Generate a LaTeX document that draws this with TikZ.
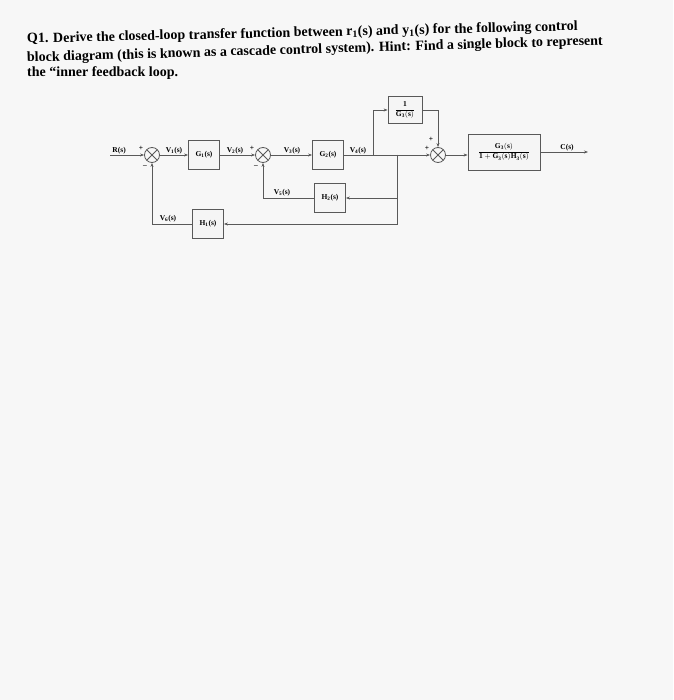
\documentclass[tikz,border=0pt]{standalone}
\usepackage{fontspec}
\setmainfont{Liberation Serif}
\usetikzlibrary{arrows.meta}
\begin{document}
\begin{tikzpicture}[x=1pt,y=-1pt,
  blk/.style={draw,thick,gray!70!black,fill=gray!8,minimum width=31pt,minimum height=29pt,inner sep=1pt,text=black,font=\bfseries\fontsize{7.5}{8}\selectfont},
  sumc/.style={draw,thick,gray!70!black,circle,minimum size=15pt,inner sep=0pt,path picture={\draw[thick,gray!70!black] (path picture bounding box.north west)--(path picture bounding box.south east) (path picture bounding box.north east)--(path picture bounding box.south west);}},
  lab/.style={font=\bfseries\fontsize{7.5}{8}\selectfont,inner sep=1pt},
  hdr/.style={anchor=base west,font=\bfseries\fontsize{14}{16}\selectfont,inner sep=0pt},
  sig/.style={thick,gray!70!black,-{Stealth[length=4pt]}},
  ln/.style={thick,gray!70!black}]
\fill[gray!6] (0,0) rectangle (673,700);
\useasboundingbox (0,0) rectangle (673,700);
\node[hdr,rotate=1.3] (h1) at (27,43) {Q1. Derive the closed-loop transfer function between r\textsubscript{1}(s) and y\textsubscript{1}(s) for the following control};
\node[hdr,rotate=1.7] (h2) at (27,62) {block diagram (this is known as a cascade control system). Hint: Find a single block to represent};
\node[hdr] (h3) at (27,77) {the ``inner feedback loop.};
\coordinate (rin) at (110,155);
\node[sumc] (s1) at (152,155) {};
\node[blk] (g1) at (204,155) {G\textsubscript{1}(s)};
\node[sumc] (s2) at (263,155) {};
\node[blk] (g2) at (328,155) {G\textsubscript{2}(s)};
\coordinate (b1) at (373,155);
\coordinate (b2) at (397,155);
\node[sumc] (s3) at (438,155) {};
\node[blk,minimum width=72pt,minimum height=36pt] (g3) at (504,152) {$\displaystyle\frac{\mathbf{G_3(s)}}{\mathbf{1+G_3(s)H_3(s)}}$};
\coordinate (out) at (588,152);
\node[blk,minimum width=34pt,minimum height=27pt] (ig) at (405,110) {$\displaystyle\frac{\mathbf 1}{\mathbf{G_3(s)}}$};
\node[blk] (h2b) at (330,198) {H\textsubscript{2}(s)};
\node[blk] (h1b) at (208,224) {H\textsubscript{1}(s)};
\draw[sig] (rin) -- (s1);
\draw[sig] (s1) -- (g1);
\draw[sig] (g1) -- (s2);
\draw[sig] (s2) -- (g2);
\draw[ln] (g2) -- (b2);
\draw[sig] (b2) -- (s3);
\draw[sig] (s3) -- (s3 -| g3.west);
\draw[sig] (g3.east) -- (out);
\draw[sig] (b1) |- (ig);
\draw[sig] (ig.east) -| (s3);
\draw[sig] (b2) |- (h2b);
\draw[sig] (b2) |- (h1b);
\draw[sig] (h2b) -| (s2);
\draw[sig] (h1b) -| (s1);
\node[lab,anchor=south east] (lr) at (127,155) {R(s)};
\node[lab] (p1) at (141,148) {+};
\node[lab] (m1) at (145,166) {--};
\node[lab,anchor=south] (lv1) at (174,155) {V\textsubscript{1}(s)};
\node[lab,anchor=south] (lv2) at (235,155) {V\textsubscript{2}(s)};
\node[lab] (p2) at (252,148) {+};
\node[lab] (m2) at (256,166) {--};
\node[lab,anchor=south] (lv3) at (292,155) {V\textsubscript{3}(s)};
\node[lab,anchor=south] (lv4) at (358,155) {V\textsubscript{4}(s)};
\node[lab] (p3) at (427,148) {+};
\node[lab] (p4) at (431,139) {+};
\node[lab,anchor=south] (lc) at (567,152) {C(s)};
\node[lab,anchor=south] (lv5) at (282,197) {V\textsubscript{5}(s)};
\node[lab,anchor=south] (lv6) at (168,223) {V\textsubscript{6}(s)};
\end{tikzpicture}
\end{document}
